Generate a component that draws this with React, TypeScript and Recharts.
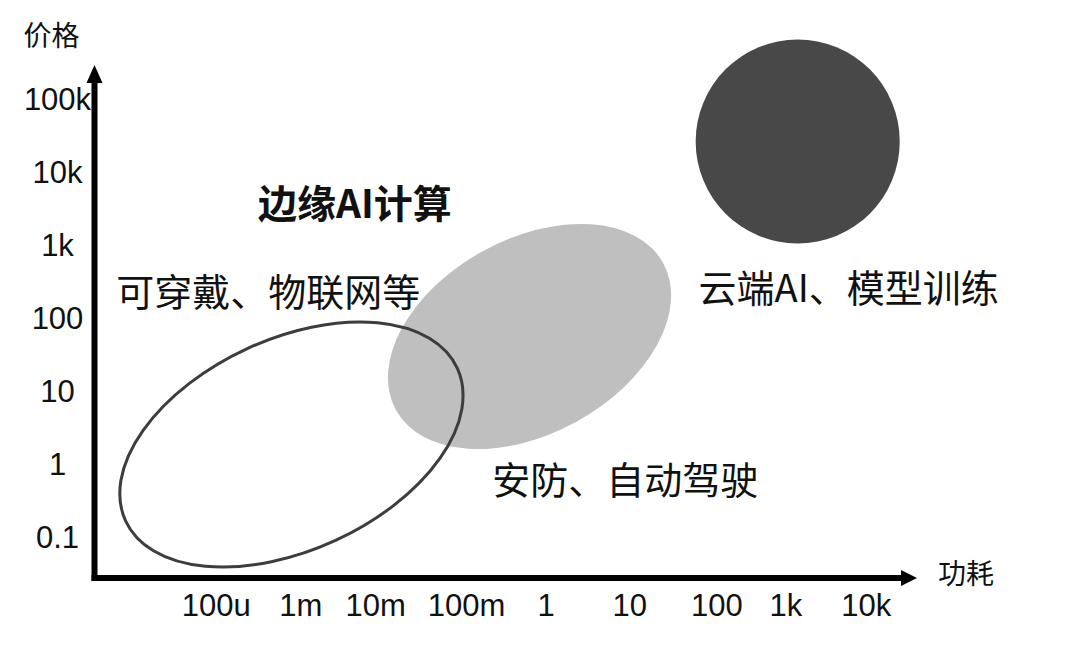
import { ScatterChart, Scatter, XAxis, YAxis, ReferenceDot } from 'recharts';

// log10(power in W) tick positions
const powerTicks = [-4, -2.96, -2.04, -0.92, 0.06, 1.09, 2.16, 3.01, 4];
const powerTickLabels = ['100u', '1m', '10m', '100m', '1', '10', '100', '1k', '10k'];

// log10(price)
const priceTicks = [-1, 0, 1, 2, 3, 4, 5];
const priceTickLabels = ['0.1', '1', '10', '100', '1k', '10k', '100k'];

// application regions: centre (log power, log price), semi-axes in decades, tilt in degrees
const regionKeys = ['security', 'wearable', 'cloud'];
const regionPower = [-0.145, -3.076, 3.156];
const regionPrice = [1.747, 0.267, 4.418];
const regionMajor = [1.877, 2.247, 1.256];
const regionMinor = [1.198, 1.3, 1.256];
const regionTilt = [28.8, 24.7, 0];

// text annotations
const noteTexts = ['边缘AI计算', '可穿戴、物联网等', '安防、自动驾驶', '云端AI、模型训练'];
const notePower = [-2.294, -3.36, 1.032, 3.784];
const notePrice = [3.603, 2.397, -0.185, 2.452];

const POWER_DOMAIN: [number, number] = [-5.5, 4.44];
const PRICE_DOMAIN: [number, number] = [-1.5616, 5.233];

const WIDTH = 1080;
const HEIGHT = 649;
const MARGIN = { top: 82, right: 178, bottom: 0, left: 0 };
const Y_AXIS_W = 94.5;
const X_AXIS_H = 71;
const PLOT_W = WIDTH - MARGIN.right - MARGIN.left - Y_AXIS_W;
const PX_PER_DECADE = PLOT_W / (POWER_DOMAIN[1] - POWER_DOMAIN[0]);

const CJK = '"Noto Sans CJK SC", "Noto Sans", sans-serif';
const LATIN = '"Liberation Sans", Arial, sans-serif';

const regionStyles: Record<string, any> = {
  security: { fill: '#bfbfbf', stroke: 'none' },
  wearable: { fill: 'none', stroke: '#3d3d3d', strokeWidth: 3 },
  cloud: { fill: '#484848', stroke: 'none' },
};

const regionData = regionKeys.map((key, i) => ({
  key,
  x: regionPower[i],
  y: regionPrice[i],
  major: regionMajor[i],
  minor: regionMinor[i],
  tilt: regionTilt[i],
}));

const noteData = noteTexts.map((text, i) => ({ text, x: notePower[i], y: notePrice[i] }));

const RegionShape = (props: any) => {
  const { cx, cy, payload } = props;
  const rx = payload.major * PX_PER_DECADE;
  const ry = payload.minor * PX_PER_DECADE;
  return (
    <ellipse
      cx={cx}
      cy={cy}
      rx={rx}
      ry={ry}
      transform={`rotate(${-payload.tilt} ${cx} ${cy})`}
      {...regionStyles[payload.key]}
    />
  );
};

const NoteShape = (props: any) => {
  const { cx, cy, payload } = props;
  const bold = payload.text === '边缘AI计算';
  return (
    <text
      x={cx}
      y={cy}
      textAnchor="middle"
      dominantBaseline="central"
      fontFamily={CJK}
      fontSize={bold ? 39 : 38}
      fontWeight={bold ? 700 : 400}
      fill="#111"
    >
      {payload.text}
    </text>
  );
};

const PowerTick = (props: any) => {
  const { x, y, payload } = props;
  const idx = powerTicks.indexOf(payload.value);
  return (
    <text x={x} y={y + 38} textAnchor="middle" fontFamily={LATIN} fontSize={31} fill="#111">
      {powerTickLabels[idx]}
    </text>
  );
};

const PriceTick = (props: any) => {
  const { x, y, payload } = props;
  const idx = priceTicks.indexOf(payload.value);
  return (
    <text x={x - 37} y={y + 11} textAnchor="middle" fontFamily={LATIN} fontSize={31} fill="#111">
      {priceTickLabels[idx]}
    </text>
  );
};

const ArrowRight = (props: any) => {
  const { cx, cy } = props;
  return <path d={`M${cx - 1},${cy - 8} L${cx + 15},${cy} L${cx - 1},${cy + 8} Z`} fill="#000" />;
};

const ArrowUp = (props: any) => {
  const { cx, cy } = props;
  return <path d={`M${cx - 8},${cy + 1} L${cx},${cy - 17} L${cx + 8},${cy + 1} Z`} fill="#000" />;
};

const axisLineStyle = { stroke: '#000', strokeWidth: 6, strokeLinecap: 'square' };

const App = () => {
  return (
    <div style={{ position: 'absolute', left: 0, top: 0, background: '#fff' }}>
      <ScatterChart width={WIDTH} height={HEIGHT} margin={MARGIN}>
        <XAxis
          type="number"
          dataKey="x"
          domain={POWER_DOMAIN}
          ticks={powerTicks}
          interval={0}
          tick={<PowerTick />}
          tickLine={false}
          tickSize={0}
          tickMargin={0}
          height={X_AXIS_H}
          axisLine={axisLineStyle}
          label={(p: any) => (
            <text x={938} y={584} fontFamily={CJK} fontSize={28} fill="#111">
              功耗
            </text>
          )}
        />
        <YAxis
          type="number"
          dataKey="y"
          domain={PRICE_DOMAIN}
          ticks={priceTicks}
          interval={0}
          tick={<PriceTick />}
          tickLine={false}
          tickSize={0}
          tickMargin={0}
          width={Y_AXIS_W}
          axisLine={axisLineStyle}
          label={(p: any) => (
            <text x={51.5} y={46} textAnchor="middle" fontFamily={CJK} fontSize={28} fill="#111">
              价格
            </text>
          )}
        />
        <Scatter data={regionData} shape={<RegionShape />} isAnimationActive={false} />
        <Scatter data={noteData} shape={<NoteShape />} isAnimationActive={false} />
        <ReferenceDot x={POWER_DOMAIN[1]} y={PRICE_DOMAIN[0]} shape={<ArrowRight />} />
        <ReferenceDot x={POWER_DOMAIN[0]} y={PRICE_DOMAIN[1]} shape={<ArrowUp />} />
      </ScatterChart>
    </div>
  );
};

export default App;
